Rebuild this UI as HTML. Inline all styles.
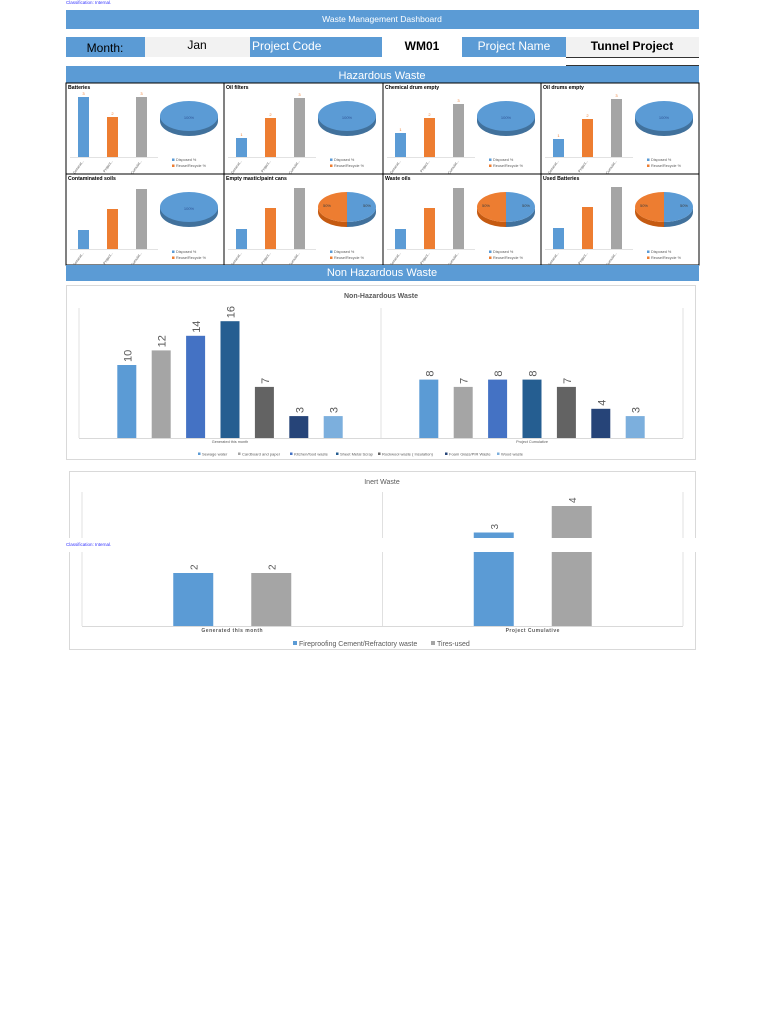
<!DOCTYPE html>
<html><head><meta charset="utf-8"><title>Waste Management Dashboard</title>
<style>
html,body{margin:0;padding:0;background:#fff;}
body{width:768px;height:1024px;overflow:hidden;font-family:"Liberation Sans",sans-serif;}
svg text{font-family:"Liberation Sans",sans-serif;}
</style></head>
<body>
<svg id="root" width="768" height="1024" viewBox="0 0 768 1024" xmlns="http://www.w3.org/2000/svg">
<defs>
<clipPath id="clipUpper"><rect x="0" y="0" width="768" height="538"/></clipPath>
<clipPath id="clipLower"><rect x="0" y="552" width="768" height="200"/></clipPath>
</defs>
<text x="66" y="4" font-size="4.5" fill="#3333ff">Classification: Internal.</text>
<rect x="66" y="10" width="633" height="19" fill="#5b9bd5"/>
<text x="382" y="22" font-size="8.5" fill="#fff" text-anchor="middle">Waste Management Dashboard</text>
<g>
<rect x="66" y="37" width="79" height="20" fill="#5b9bd5"/>
<text x="105" y="52" font-size="12" fill="#000" text-anchor="middle">Month:</text>
<rect x="145" y="37" width="105" height="20" fill="#f2f2f2"/>
<text x="197" y="49" font-size="12" fill="#000" text-anchor="middle">Jan</text>
<rect x="250" y="37" width="132" height="20" fill="#5b9bd5"/>
<text x="252" y="50" font-size="12" fill="#fff">Project Code</text>
<text x="422" y="50" font-size="12" font-weight="bold" fill="#000" text-anchor="middle">WM01</text>
<rect x="462" y="37" width="104" height="20" fill="#5b9bd5"/>
<text x="514" y="50" font-size="12" fill="#fff" text-anchor="middle">Project Name</text>
<rect x="566" y="37" width="133" height="20" fill="#f2f2f2"/>
<text x="632" y="50" font-size="12" font-weight="bold" fill="#000" text-anchor="middle">Tunnel Project</text>
<line x1="566" y1="57.5" x2="699" y2="57.5" stroke="#333" stroke-width="1"/>
</g>
<line x1="566" y1="65.5" x2="699" y2="65.5" stroke="#333" stroke-width="1"/>
<rect x="66" y="66" width="633" height="17" fill="#5b9bd5"/>
<text x="382" y="79" font-size="11" fill="#fff" text-anchor="middle">Hazardous Waste</text>
<g id="haz"></g>
<rect x="66" y="265" width="633" height="16" fill="#5b9bd5"/>
<text x="382" y="276" font-size="11" fill="#fff" text-anchor="middle">Non Hazardous Waste</text>
<g id="nonhaz"></g>
<g id="inertUp" clip-path="url(#clipUpper)"><g transform="translate(0,-14)"><g id="inertA"></g></g></g>
<g id="inertLow" clip-path="url(#clipLower)"><g id="inertB"></g></g>
<rect x="0" y="538" width="768" height="14" fill="#fff"/>
<text x="66" y="546" font-size="4.5" fill="#3333ff">Classification: Internal.</text>
</svg>
<script>
// Hazardous data
const hazTitles = ['Batteries','Oil filters','Chemical drum empty','Oil drums empty','Contaminated soils','Empty mastic/paint cans','Waste oils','Used Batteries'];
const hazDisposed = [3, 0.95, 1.2, 0.9, 0.95, 1, 1, 1.05];
const hazReuse = [2, 1.95, 1.95, 1.9, 2, 2.05, 2.05, 2.1];
const hazCumulative = [3, 2.95, 2.65, 2.9, 3, 3.05, 3.05, 3.1];
const hazDisposedPct = [100, 100, 100, 100, 100, 50, 50, 50];
const hazCategories = ['Generat...','Project...','Cumulat...'];
// Non-hazardous data
const nhGroups = ['Generated this month','Project Cumulative'];
const nhSeries = ['Sewage water','Cardboard and paper','Kitchen/food waste','Sheet Metal Scrap','Rockwool waste ( Insulation)','Foam Glass/PIR Waste','Wood waste'];
const nhGenerated = [10, 12, 14, 16, 7, 3, 3];
const nhCumulative = [8, 7, 8, 8, 7, 4, 3];
// Inert data
const inGroups = ['Generated this month','Project Cumulative'];
const inSeries = ['Fireproofing Cement/Refractory waste','Tires-used'];
const inFireproofing = [2, 3];
const inTires = [2, 4];

const NS='http://www.w3.org/2000/svg';
function mk(tag, attrs, parent, txt){const e=document.createElementNS(NS,tag);for(const k in attrs)e.setAttribute(k,attrs[k]);if(txt!==undefined)e.textContent=txt;parent.appendChild(e);return e;}

// ---- Hazardous grid
const haz=document.getElementById('haz');
const colX=[66,224,383,541,699], rowY=[83,174,265];
const hazColors=['#5b9bd5','#ed7d31','#a5a5a5'];
const hazUnit=20;
for(let i=0;i<8;i++){
  const c=i%4, r=Math.floor(i/4);
  const x0=colX[c], y0=rowY[r], w=colX[c+1]-x0, h=rowY[r+1]-y0;
  const g=mk('g',{},haz);
  
  
  mk('rect',{x:x0,y:y0,width:w,height:h,fill:'#fff',stroke:'#000','stroke-width':1},g);
  const t=mk('text',{x:x0+2,y:y0+6,'font-size':5.2,'font-weight':'bold',fill:'#000'},g,hazTitles[i]);
  
  
  const base=y0+(r===0?74:75);
  mk('line',{x1:x0+4,y1:base+0.5,x2:x0+92,y2:base+0.5,stroke:'#d9d9d9','stroke-width':0.7},g);
  const vals=[hazDisposed[i],hazReuse[i],hazCumulative[i]];
  for(let j=0;j<3;j++){
    const bh=vals[j]*hazUnit, bx=x0+12+j*29;
    const b=mk('rect',{x:bx,y:base-bh,width:11,height:bh,fill:hazColors[j]},g);
    
    
    if(r===0){mk('text',{x:bx+5.5,y:base-bh-2,'font-size':4,fill:'#ed7d31','text-anchor':'middle'},g,String(Math.round(vals[j])));}
    const l=mk('text',{x:bx+6,y:base+4,'font-size':3.6,fill:'#595959','text-anchor':'end',transform:`rotate(-55 ${bx+6} ${base+4})`},g,hazCategories[j]);
    
    
  }
  const cx=x0+123, cy=y0+33, rx=29, ry=15, th=5, p=hazDisposedPct[i]/100;
  const pie=mk('g',{},g);
  
  
  if(p>=1){
    mk('path',{d:`M${cx-rx},${cy} v${th} A${rx},${ry} 0 0 0 ${cx+rx},${cy+th} v${-th} Z`,fill:'#41719c'},pie);
    mk('ellipse',{cx:cx,cy:cy,rx:rx,ry:ry,fill:'#5b9bd5'},pie);
    mk('text',{x:cx,y:cy+3,'font-size':4,fill:'#2f5597','text-anchor':'middle'},pie,'100%');
  } else {
    mk('path',{d:`M${cx-rx},${cy} v${th} A${rx},${ry} 0 0 0 ${cx},${cy+ry+th} v${-th} A${rx},${ry} 0 0 1 ${cx-rx},${cy} Z`,fill:'#c55a11'},pie);
    mk('path',{d:`M${cx},${cy+ry} v${th} A${rx},${ry} 0 0 0 ${cx+rx},${cy+th} v${-th} A${rx},${ry} 0 0 1 ${cx},${cy+ry} Z`,fill:'#41719c'},pie);
    mk('path',{d:`M${cx},${cy} L${cx},${cy-ry} A${rx},${ry} 0 0 1 ${cx},${cy+ry} Z`,fill:'#5b9bd5'},pie);
    mk('path',{d:`M${cx},${cy} L${cx},${cy+ry} A${rx},${ry} 0 0 1 ${cx},${cy-ry} Z`,fill:'#ed7d31'},pie);
    mk('text',{x:cx+20,y:cy,'font-size':4,fill:'#404040','text-anchor':'middle'},pie,hazDisposedPct[i]+'%');
    mk('text',{x:cx-20,y:cy,'font-size':4,fill:'#404040','text-anchor':'middle'},pie,(100-hazDisposedPct[i])+'%');
  }
  const ly=base+4;
  mk('rect',{x:x0+106,y:ly-2.5,width:2.5,height:2.5,fill:'#5b9bd5'},g);
  mk('text',{x:x0+110,y:ly,'font-size':3.8,fill:'#595959'},g,'Disposed %');
  mk('rect',{x:x0+106,y:ly+3.5,width:2.5,height:2.5,fill:'#ed7d31'},g);
  mk('text',{x:x0+110,y:ly+6,'font-size':3.8,fill:'#595959'},g,'Reuse/Recycle %');
}

// ---- Non-hazardous chart
const nh=document.getElementById('nonhaz');
const nhColors=['#5b9bd5','#a5a5a5','#4472c4','#255e91','#636363','#264478','#7cafdd'];
mk('rect',{x:66.5,y:285.5,width:629,height:174,fill:'#fff',stroke:'#d9d9d9'},nh);
const nt=mk('text',{x:381,y:298,'font-size':7,'font-weight':'bold',fill:'#595959','text-anchor':'middle'},nh,'Non-Hazardous Waste');


const nhL=79,nhR=683,nhBase=438,nhUnit=7.3,nhTop=308;
const nhCatW=(nhR-nhL)/nhGroups.length;
function nhY(v){return nhBase-v*nhUnit;}
for(let k=0;k<=nhGroups.length;k++){mk('line',{x1:nhL+k*nhCatW,y1:nhTop,x2:nhL+k*nhCatW,y2:nhBase,stroke:'#d9d9d9','stroke-width':0.8},nh);}
mk('line',{x1:nhL,y1:nhBase+0.5,x2:nhR,y2:nhBase+0.5,stroke:'#d9d9d9'},nh);
const nhData=[nhGenerated,nhCumulative];
nhGroups.forEach((gname,gi)=>{
  const cxg=nhL+nhCatW*(gi+0.5);
  nhData[gi].forEach((v,si)=>{
    const bx=cxg+(si-3)*34.4-9.5;
    const b=mk('rect',{x:bx,y:nhY(v),width:19,height:v*nhUnit,fill:nhColors[si]},nh);
    
    
    const lx=bx+14,ly=nhY(v)-3;
    mk('text',{x:lx,y:ly,'font-size':11,fill:'#595959',transform:`rotate(-90 ${lx} ${ly})`},nh,String(v));
  });
  const cl=mk('text',{x:cxg,y:nhBase+5,'font-size':3.8,fill:'#595959','text-anchor':'middle'},nh,gname);
  
  
});
let lgx=198;
const lgw=[40,52,46,42,67,52,30];
nhSeries.forEach((s,si)=>{
  const e=mk('g',{},nh);
  
  
  mk('rect',{x:lgx,y:452.5,width:2.5,height:2.5,fill:nhColors[si]},e);
  mk('text',{x:lgx+4,y:455.5,'font-size':4,fill:'#595959'},e,s);
  lgx+=lgw[si];
});

// ---- Inert chart
const inColors=['#5b9bd5','#a5a5a5'];
const inL=82,inR=683,inBase=626,inUnit=26.5,inTop=506;
const inCatW=(inR-inL)/inGroups.length;
function inY(v){return inBase-v*inUnit;}
function drawInert(root){
  mk('rect',{x:69.5,y:485.5,width:626,height:164,fill:'#fff',stroke:'#d9d9d9'},root);
  mk('text',{x:382,y:498,'font-size':7,fill:'#595959','text-anchor':'middle'},root,'Inert Waste');
  for(let k=0;k<=inGroups.length;k++){mk('line',{x1:inL+k*inCatW,y1:inTop,x2:inL+k*inCatW,y2:inBase,stroke:'#d9d9d9','stroke-width':0.8},root);}
  mk('line',{x1:inL,y1:inBase+0.5,x2:inR,y2:inBase+0.5,stroke:'#d9d9d9'},root);
  const vals=[inFireproofing,inTires];
  inGroups.forEach((gname,gi)=>{
    const cxg=inL+inCatW*(gi+0.5);
    vals.forEach((arr,si)=>{
      const v=arr[gi];
      const bx=cxg+(si-0.5)*78-20;
      const b=mk('rect',{x:bx,y:inY(v),width:40,height:v*inUnit,fill:inColors[si]},root);
      
      
      const lx=bx+24,ly=inY(v)-3;
      mk('text',{x:lx,y:ly,'font-size':10,fill:'#595959',transform:`rotate(-90 ${lx} ${ly})`},root,String(v));
    });
    const cl=mk('text',{x:cxg,y:inBase+6,'font-size':5,'font-weight':'bold',fill:'#595959','text-anchor':'middle','letter-spacing':'0.5'},root,gname);
    
    
  });
  let x=293;
  inSeries.forEach((s,si)=>{
    const e=mk('g',{},root);
    
    
    mk('rect',{x:x,y:641,width:4,height:4,fill:inColors[si]},e);
    mk('text',{x:x+6,y:646,'font-size':7,fill:'#595959'},e,s);
    x+=138;
  });
}
drawInert(document.getElementById('inertA'));
drawInert(document.getElementById('inertB'));
</script>
</body></html>
